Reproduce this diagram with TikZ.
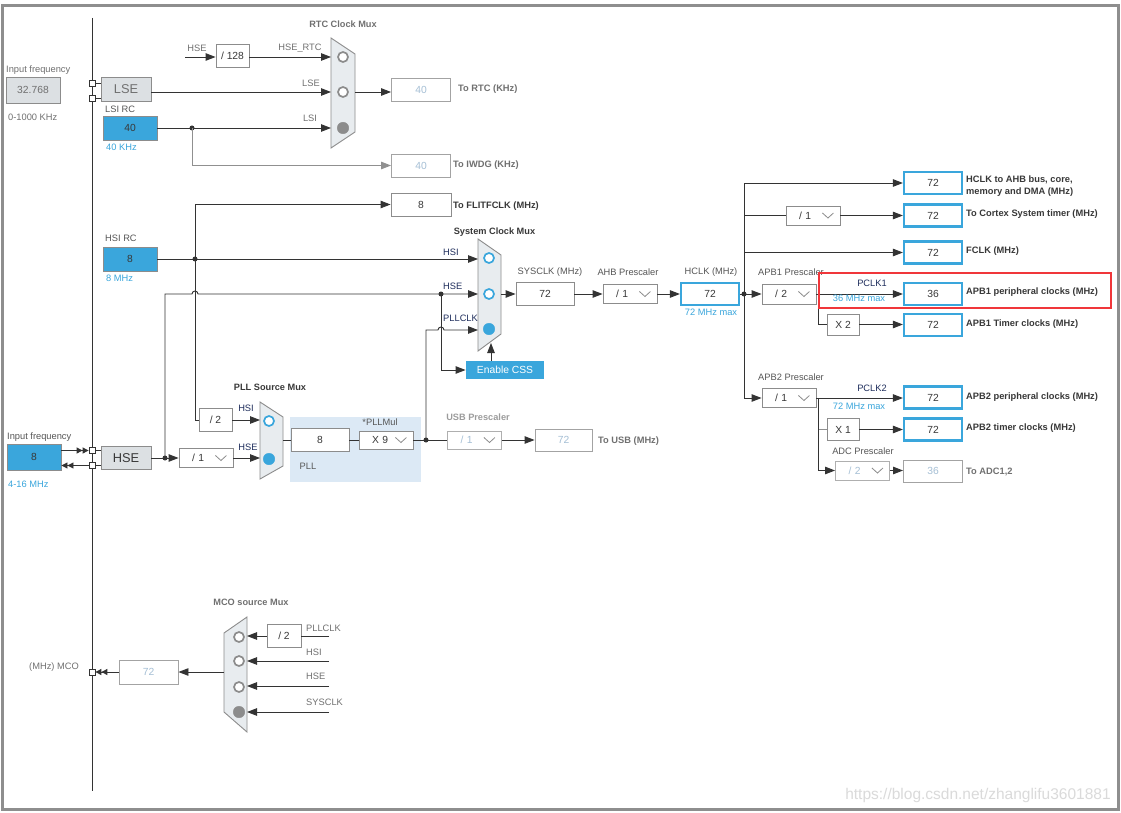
\documentclass[tikz,border=0pt]{standalone}
\usepackage{fontspec}
\setmainfont{Liberation Sans}
\usetikzlibrary{arrows.meta,calc}
\definecolor{stblue}{HTML}{3AA6DC}
\definecolor{boxgray}{HTML}{DCE0E3}
\definecolor{muxfill}{HTML}{E8ECEF}
\definecolor{edgec}{HTML}{8C8C8C}
\definecolor{lblgray}{HTML}{707070}
\definecolor{lightlbl}{HTML}{9C9C9C}
\definecolor{darkt}{HTML}{383838}
\definecolor{navy}{HTML}{1E2D5C}
\definecolor{faint}{HTML}{A5BFD5}
\definecolor{pllbg}{HTML}{DCE9F5}
\definecolor{wirec}{HTML}{333333}
\definecolor{wiregray}{HTML}{909090}
\definecolor{framec}{HTML}{8E8E8E}
\definecolor{redc}{HTML}{F0363A}
\definecolor{wmc}{HTML}{DADADA}
\newcommand\myfs[1]{\fontsize{#1}{#1}\selectfont}
\newcommand\chev[1]{\draw[edgec, line width=0.8pt] ($(#1.east)+(-18,-2.5)$) -- ($(#1.east)+(-12.5,2.5)$) -- ($(#1.east)+(-7,-2.5)$);}
\tikzset{
  box/.style={draw=edgec, line width=0.9pt, fill=white, inner sep=0pt, font=\myfs{10.3}, text=darkt},
  outbox/.style={box, draw=stblue, line width=2.2pt},
  inbox/.style={box, fill=stblue},
  greybox/.style={box, fill=boxgray},
  fbox/.style={box, text=faint, draw=edgec!80},
  presc/.style={box, minimum width=54pt, minimum height=19pt, text width=28pt, inner xsep=13pt, align=left},
  fpresc/.style={presc, text=faint, draw=edgec!70},
  lab/.style={inner sep=0pt, font=\myfs{9.3}, text=lblgray},
  dlab/.style={lab, text=darkt!85},
  nlab/.style={lab, text=navy},
  blab/.style={lab, font=\myfs{9.3}\bfseries, text=darkt, anchor=west},
  glab/.style={blab, text=lblgray},
  tlab/.style={lab, font=\myfs{9.2}\bfseries, text=darkt},
  wire/.style={draw=wirec, line width=0.9pt},
  arr/.style={wire, -{Triangle[length=10pt,width=7.5pt]}},
  dbl/.style={wire, -{Triangle[length=6pt,width=6pt]Triangle[length=6pt,width=6pt]}},
  mux/.style={draw=edgec, fill=muxfill, line width=0.9pt},
  sel/.style={circle, draw=#1, line width=1.7pt, fill=white, minimum size=10pt, inner sep=0pt},
  seld/.style={circle, fill=#1, draw=#1, minimum size=11.5pt, inner sep=0pt},
  port/.style={draw=wirec, fill=white, line width=0.8pt, minimum size=6pt, inner sep=0pt},
  dot/.style={circle, fill=wirec, minimum size=5pt, inner sep=0pt},
}
\begin{document}
\begin{tikzpicture}[x=1pt,y=-1pt]
\useasboundingbox (0,0) rectangle (1121,813);
\fill[white] (0,0) rectangle (1121,813);
\draw[framec, line width=3pt] (2.5,6) rectangle (1118.5,809);
\draw[wire] (92,18) -- (92,791);

% ---------- LSE / LSI / RTC ----------
\node[lab, anchor=west] (inf1) at (6,70) {Input frequency};
\node[greybox, minimum width=54pt, minimum height=26pt, text=lblgray] (lsein) at (33,90) {32.768};
\node[lab, anchor=west] (lserange) at (8,117) {0-1000 KHz};
\node[port] (p1) at (92,83.5) {};
\node[port] (p2) at (92,98) {};
\node[greybox, minimum width=50pt, minimum height=24pt, font=\myfs{12.8}, text=lblgray] (lse) at (126,89) {LSE};
\draw[wire] (p1.east) -- (p1.east -| lse.west);
\draw[wire] (p2.east) -- (p2.east -| lse.west);

\node[dlab, anchor=west] at (105,109.5) {LSI RC};
\node[inbox, minimum width=54pt, minimum height=24pt] (lsi) at (130,128) {40};
\node[lab, text=stblue, anchor=west] at (106,147) {40 KHz};

\draw[mux] (331,38) -- (355,54) -- (355,132) -- (331,148) -- cycle;
\node[sel=edgec] (r1) at (343,57) {};
\node[sel=edgec] (r2) at (343,92) {};
\node[seld=edgec] (r3) at (343,128) {};
\node[tlab, text=lblgray] at (343,24) {RTC Clock Mux};
\coordinate (rin1) at (331,57);
\coordinate (rin2) at (331,92);
\coordinate (rin3) at (331,128);
\coordinate (rout) at (355,92);

\node[lab] at (197,48) {HSE};
\coordinate (hsertcsrc) at (185,57);
\node[box, minimum width=33pt, minimum height=23pt] (d128) at (232.5,56) {/ 128};
\draw[arr] (hsertcsrc) -- (hsertcsrc -| d128.west);
\draw[arr] (d128.east |- rin1) -- (rin1);
\node[lab] at (300,48) {HSE\_RTC};
\draw[arr] (lse.east |- rin2) -- (rin2);
\node[lab] at (311,83) {LSE};
\draw[arr] (lsi.east) -- (rin3);
\node[lab] at (310,118) {LSI};
\coordinate (lsidot) at (192,128);
\node[dot] at (lsidot) {};

\node[fbox, minimum width=59pt, minimum height=23pt] (rtc) at (421,89.5) {40};
\draw[arr] (rout) -- (rout -| rtc.west);
\node[glab] at (458,89) {To RTC (KHz)};
\node[fbox, minimum width=59pt, minimum height=23pt] (iwdg) at (421,165.5) {40};
\draw[arr, draw=wiregray] (lsidot) |- (iwdg.west);
\node[glab] at (453,165) {To IWDG (KHz)};

% ---------- HSI / FLITF / System mux ----------
\node[box, minimum width=60pt, minimum height=23pt] (flit) at (421,204.5) {8};
\node[blab] at (453,206) {To FLITFCLK (MHz)};

\node[dlab, anchor=west] at (105,238) {HSI RC};
\node[inbox, minimum width=54pt, minimum height=24pt] (hsi) at (130,259) {8};
\node[lab, text=stblue, anchor=west] at (106,278) {8 MHz};

\draw[mux] (478,239) -- (501,255) -- (501,334) -- (478,351) -- cycle;
\node[sel=stblue] (s1) at (489,258) {};
\node[sel=stblue] (s2) at (489,294) {};
\node[seld=stblue] (s3) at (489,329) {};
\coordinate (sin1) at (478,259);
\coordinate (sin2) at (478,294);
\coordinate (sin3) at (478,330);
\coordinate (sout) at (501,294);
\coordinate (sbot) at (491,343);
\node[tlab] at (494.5,232) {System Clock Mux};

\coordinate (hsidot) at (195,259);
\draw[arr] (hsi.east) -- (sin1);
\draw[arr] (hsidot) |- (flit.west);
\node[dot] at (hsidot) {};

\coordinate (hsedot) at (165,458);
\draw[arr] (hsedot) -- (165,294) -- (192,294) arc[start angle=180,end angle=360,radius=3] -- (sin2);
\coordinate (cssdot) at (441,294);
\node[dot] at (cssdot) {};
\node[inbox, draw=none, text=white, minimum width=78pt, minimum height=18pt] (css) at (505,370) {Enable CSS};
\draw[arr] (cssdot) |- (css.west);
\draw[arr] (css.north -| sbot) -- (sbot);
\node[nlab, anchor=west] at (443,252) {HSI};
\node[nlab, anchor=west] at (443,286) {HSE};
\node[nlab, anchor=west] at (443,318) {PLLCLK};

\coordinate (plldot) at (426,440);
\draw[arr] (plldot) -- (426,330) -- (438,330) arc[start angle=180,end angle=360,radius=3] -- (sin3);

% ---------- SYSCLK / AHB / HCLK ----------
\node[box, minimum width=58pt, minimum height=23pt] (sysclk) at (545,294) {72};
\draw[arr] (sout) -- (sysclk.west);
\node[dlab] at (550,272) {SYSCLK (MHz)};
\node[presc] (ahb) at (630,294) {/ 1}; \chev{ahb}
\node[dlab] at (628,272) {AHB Prescaler};
\draw[arr] (sysclk.east) -- (ahb.west);
\node[outbox, minimum width=58pt, minimum height=22pt] (hclk) at (710,294) {72};
\draw[arr] (ahb.east) -- (hclk.west);
\node[dlab] at (711,272) {HCLK (MHz)};
\node[lab, text=stblue] at (711,312) {72 MHz max};

\coordinate (hdot) at (744,294);
\draw[wire] (hclk.east) -- (hdot);
\node[dot] at (hdot) {};

\node[outbox, minimum width=58pt, minimum height=22pt] (o1) at (933,183) {72};
\node[outbox, minimum width=58pt, minimum height=22pt] (o2) at (933,215.5) {72};
\node[outbox, minimum width=58pt, minimum height=22pt] (o3) at (933,252.5) {72};
\node[outbox, minimum width=58pt, minimum height=22pt] (o4) at (933,294) {36};
\node[outbox, minimum width=58pt, minimum height=22pt] (o5) at (933,325) {72};
\node[outbox, minimum width=58pt, minimum height=22pt] (o6) at (933,397.5) {72};
\node[outbox, minimum width=58pt, minimum height=22pt] (o7) at (933,429.5) {72};
\node[fbox, minimum width=59pt, minimum height=22pt] (o8) at (933,471) {36};

\draw[arr] (hdot) |- (o1.west);
\node[presc] (cort) at (813,215.5) {/ 1}; \chev{cort}
\draw[wire] (hdot) |- (cort.west);
\draw[arr] (cort.east) -- (o2.west);
\draw[arr] (hdot) |- (o3.west);

\node[presc, minimum height=20pt] (apb1) at (789,294) {/ 2}; \chev{apb1}
\draw[arr] (hdot) -- (apb1.west);
\node[dlab, anchor=west] at (758,272) {APB1 Prescaler};
\draw[arr] (apb1.east) -- (apb1.east -| o4.west);
\node[nlab] at (872,283) {PCLK1};
\node[lab, text=stblue] at (859,298.5) {36 MHz max};
\coordinate (b1) at (818,294);
\node[box, minimum width=32pt, minimum height=21pt] (x2) at (843,324.5) {X 2};
\draw[wire] (b1) |- (x2.west);
\draw[arr] (x2.east) -- (x2.east -| o5.west);

\node[presc] (apb2) at (789,398) {/ 1}; \chev{apb2}
\draw[arr] (hdot) |- (apb2.west);
\node[dlab, anchor=west] at (758,377) {APB2 Prescaler};
\draw[arr] (apb2.east) -- (apb2.east -| o6.west);
\node[nlab] at (872,388) {PCLK2};
\node[lab, text=stblue] at (859,406) {72 MHz max};
\coordinate (b2) at (818,398);
\node[box, minimum width=32pt, minimum height=22pt] (x1) at (843,429.5) {X 1};
\draw[wire, draw=wiregray] (b2 |- x1.west) -- (x1.west);
\node[fpresc] (adcp) at (862.5,470.5) {/ 2}; \chev{adcp}
\draw[arr] (b2) |- (adcp.west);
\draw[arr] (adcp.east) -- (adcp.east -| o8.west);
\draw[arr] (x1.east) -- (x1.east -| o7.west);
\node[dlab] at (863,451) {ADC Prescaler};

\node[blab] at (966,180) {HCLK to AHB bus, core,};
\node[blab] at (966,192) {memory and DMA (MHz)};
\node[blab] at (966,214) {To Cortex System timer (MHz)};
\node[blab] at (966,251) {FCLK (MHz)};
\node[blab] at (966,292) {APB1 peripheral clocks (MHz)};
\node[blab] at (966,324) {APB1 Timer clocks (MHz)};
\node[blab] at (966,397) {APB2 peripheral clocks (MHz)};
\node[blab] at (966,428) {APB2 timer clocks (MHz)};
\node[glab] at (966,472) {To ADC1,2};

\node[draw=redc, line width=2.5pt, minimum width=292pt, minimum height=35pt, inner sep=0pt] (hl) at (965,290.5) {};

% ---------- PLL ----------
\node[fill=pllbg, minimum width=131pt, minimum height=65pt, inner sep=0pt] (pllbg) at (355.5,449.5) {};
\node[tlab] at (270,387) {PLL Source Mux};
\draw[mux] (260,402) -- (283,417) -- (283,466) -- (260,479) -- cycle;
\node[sel=stblue] (ps1) at (269,421) {};
\node[seld=stblue] (ps2) at (269,459) {};
\coordinate (pin1) at (260,420);
\coordinate (pin2) at (260,458);
\coordinate (pout) at (283,440);
\node[box, minimum width=33pt, minimum height=23pt] (d2) at (215.5,420) {/ 2};
\draw[wire] (hsidot) |- (d2.west);
\draw[arr] (d2.east) -- (pin1);
\node[presc] (d1) at (206,458) {/ 1}; \chev{d1}
\draw[arr] (d1.east) -- (pin2);
\node[nlab] at (246,408) {HSI};
\node[nlab] at (248,447) {HSE};
\node[box, minimum width=58pt, minimum height=23pt] (pllin) at (320,440) {8};
\draw[wire] (pout) -- (pllin.west);
\node[presc, minimum height=18pt] (pllmul) at (386,440) {X 9}; \chev{pllmul}
\draw[wire] (pllin.east) -- (pllmul.west);
\node[dlab] at (380,422) {*PLLMul};
\node[dlab] at (308,466) {PLL};
\draw[wire] (pllmul.east) -- (plldot);
\node[dot] at (plldot) {};
\node[fpresc, minimum height=18pt] (usbp) at (474.5,440) {/ 1}; \chev{usbp}
\draw[wire] (plldot) -- (usbp.west);
\node[fbox, minimum width=57pt, minimum height=22pt] (usb) at (563.5,440) {72};
\draw[arr] (usbp.east) -- (usb.west);
\node[glab] at (598,441) {To USB (MHz)};
\node[lab, font=\myfs{9.2}\bfseries, text=lightlbl] at (478,417) {USB Prescaler};

% ---------- HSE input ----------
\node[dlab, anchor=west] at (7,437) {Input frequency};
\node[inbox, minimum width=54pt, minimum height=26pt] (hsein) at (34,457) {8};
\node[lab, text=stblue, anchor=west] at (8,484) {4-16 MHz};
\node[port] (p3) at (92,450.5) {};
\node[port] (p4) at (92,465.5) {};
\draw[dbl] (hsein.east |- p3) -- (p3.west);
\draw[dbl] (p4.west) -- (hsein.east |- p4);
\node[greybox, minimum width=50pt, minimum height=23pt, font=\myfs{12.8}] (hse) at (126,458) {HSE};
\draw[wire] (p3.east) -- (p3.east -| hse.west);
\draw[wire] (p4.east) -- (p4.east -| hse.west);
\draw[arr] (hse.east) -- (d1.west);
\node[dot] at (hsedot) {};

% ---------- MCO ----------
\node[tlab, text=lblgray] at (251,602) {MCO source Mux};
\draw[mux] (224,633) -- (247,617) -- (247,732) -- (224,712) -- cycle;
\node[sel=edgec] (mc1) at (239,637) {};
\node[sel=edgec] (mc2) at (239,661) {};
\node[sel=edgec] (mc3) at (239,687) {};
\node[seld=edgec] (mc4) at (239,712) {};
\coordinate (m1) at (247,636);
\coordinate (m2) at (247,661);
\coordinate (m3) at (247,686);
\coordinate (m4) at (247,712);
\coordinate (mout) at (224,672);
\coordinate (mpll) at (329,636);
\coordinate (mhsi) at (329,661);
\coordinate (mhse) at (329,686);
\coordinate (msys) at (329,712);
\node[box, minimum width=34pt, minimum height=23pt] (md2) at (284,636) {/ 2};
\draw[wire] (mpll) -- (md2.east);
\draw[arr] (md2.west) -- (m1);
\draw[arr] (mhsi) -- (m2);
\draw[arr] (mhse) -- (m3);
\draw[arr] (msys) -- (m4);
\node[lab, anchor=west] at (306,628) {PLLCLK};
\node[lab, anchor=west] at (306,652) {HSI};
\node[lab, anchor=west] at (306,676) {HSE};
\node[lab, anchor=west] at (306,702) {SYSCLK};
\node[fbox, minimum width=59pt, minimum height=24pt] (mco) at (148.5,672) {72};
\draw[arr] (mout) -- (mco.east);
\node[port] (p5) at (92,672) {};
\draw[dbl] (mco.west) -- (p5.east);
\node[lab] at (54,667) {(MHz) MCO};

\node[text=wmc, font=\myfs{15.5}, inner sep=0pt] (wm) at (978,795) {https://blog.csdn.net/zhanglifu3601881};
\end{tikzpicture}
\end{document}
